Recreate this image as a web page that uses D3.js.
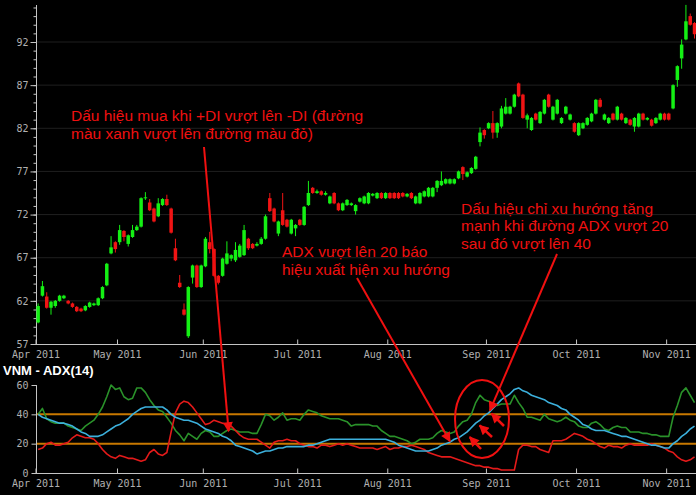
<!DOCTYPE html>
<html><head><meta charset="utf-8">
<script src="https://cdn.jsdelivr.net/npm/d3@7"></script>
<style>html,body{margin:0;padding:0;background:#000;} svg{display:block}</style>
</head><body><svg id="c" width="696" height="495"></svg>
<script>
// ---- DATA ----
const monthLabels = ["Apr 2011","May 2011","Jun 2011","Jul 2011","Aug 2011","Sep 2011","Oct 2011","Nov 2011"];
const monthStarts = [0,19,39,61,82,105,126,147];
const priceTicks = [57,62,67,72,77,82,87,92];
const adxTicks = [0,20,40,60];
const adxLevels = [20,40];

const opens = [
59.5,62.6,62.5,61.2,61.4,62.0,62.3,62.0,61.7,61.3,
61.1,60.9,61.3,61.5,61.5,62.3,63.8,67.5,68.8,68.8,
70.1,68.6,69.4,70.2,70.6,73.9,73.4,72.7,71.8,73.1,
73.8,72.7,68.1,64.1,61.0,57.9,64.7,66.1,63.6,66.0,
68.8,68.0,64.9,64.9,66.3,66.9,66.7,67.1,67.3,69.2,
68.6,68.4,68.6,69.2,73.9,72.7,69.8,72.5,71.4,69.8,
70.4,71.4,70.8,73.1,75.1,74.5,74.7,74.3,73.3,74.5,
73.3,72.5,73.1,73.1,72.4,73.5,73.3,73.3,74.2,73.9,
74.5,73.9,74.5,74.5,74.5,74.5,74.1,74.5,73.3,73.3,
74.1,74.1,74.1,75.1,75.4,75.6,75.6,75.6,76.2,77.5,
76.4,76.8,77.3,80.4,81.8,82.0,82.6,81.5,82.2,83.7,
83.7,84.5,87.2,85.9,83.0,81.8,83.7,82.6,83.7,85.9,
83.0,83.7,82.6,83.7,83.0,82.6,81.2,82.0,82.4,82.8,
83.7,85.3,83.0,82.6,83.7,83.0,83.7,82.6,83.0,82.2,
82.2,83.7,83.0,83.0,82.6,83.0,83.7,83.7,84.3,87.6,
90.1,92.3,95.0,94.2];
const highs = [
61.7,64.3,63.0,62.0,62.1,62.7,62.7,62.1,61.8,61.4,
61.2,61.5,61.9,61.8,62.4,63.7,66.4,69.5,68.9,70.8,
70.2,69.7,70.8,70.8,74.0,74.6,73.8,72.8,73.9,73.9,
74.3,72.8,69.2,65.0,61.7,63.7,66.2,66.2,66.2,69.4,
70.0,68.1,65.0,67.0,68.9,67.4,68.8,68.6,70.8,69.3,
68.7,68.8,69.4,72.0,74.5,72.8,71.3,74.5,71.5,71.5,
70.9,71.5,73.0,75.9,75.2,74.9,74.8,74.7,74.2,74.6,
73.4,73.4,73.8,73.4,73.2,74.0,74.2,74.6,74.5,74.6,
74.6,74.6,74.6,74.6,74.6,74.6,74.5,74.6,74.2,74.6,
74.8,75.2,75.2,76.0,77.0,76.2,76.2,76.2,77.1,77.6,
77.0,77.5,78.8,82.1,81.9,82.7,84.0,82.7,84.6,85.5,
84.6,86.0,87.3,86.0,83.7,83.3,83.8,84.0,85.4,86.0,
84.6,85.4,83.3,84.6,83.7,82.7,82.7,82.7,83.3,83.8,
85.4,85.5,83.7,83.3,83.8,84.6,83.8,83.3,83.1,83.3,
83.8,83.8,83.3,83.1,83.3,83.8,83.8,83.8,87.1,89.3,
92.3,96.3,95.3,94.3];
const lows = [
59.4,62.5,61.1,60.4,61.2,61.9,62.2,61.6,61.2,60.7,
60.7,60.8,61.2,61.4,61.4,62.2,63.7,67.4,67.6,68.5,
68.9,68.3,69.3,70.1,70.5,73.7,72.4,71.1,71.7,73.0,
73.0,69.8,66.6,63.5,60.3,57.7,64.0,63.5,63.5,65.9,
67.5,64.8,63.9,64.8,66.2,66.6,66.5,67.0,67.2,67.9,
68.0,68.3,68.5,69.1,72.3,71.1,69.5,70.7,70.5,69.7,
69.5,70.7,70.7,73.0,74.4,74.4,74.2,74.2,73.2,73.2,
72.4,72.4,73.0,73.0,72.0,73.4,73.2,73.2,74.1,73.8,
73.8,73.8,73.8,73.8,73.8,74.0,74.0,73.8,73.2,73.2,
74.0,74.0,74.0,74.6,75.3,75.5,75.5,75.5,76.1,76.0,
76.3,76.7,77.2,79.9,80.8,81.9,80.8,80.9,82.0,83.6,
83.6,84.4,85.6,83.1,82.0,81.7,82.9,82.5,83.6,84.4,
82.9,83.6,82.5,83.6,82.9,81.5,81.1,81.9,82.3,82.7,
83.6,84.4,82.9,82.5,82.9,82.9,82.9,82.5,82.3,81.6,
82.1,82.9,82.9,82.2,82.5,82.9,82.9,82.9,84.2,86.8,
88.9,92.2,93.9,92.4];
const closes = [
61.4,63.7,61.2,61.9,62.0,62.6,62.6,61.7,61.3,60.8,
60.8,61.4,61.8,61.7,62.3,63.6,66.3,68.2,68.0,70.2,
69.4,69.6,70.2,70.6,73.9,74.0,72.5,71.2,73.3,73.8,
73.1,69.9,66.7,63.6,60.4,63.6,66.1,63.6,66.1,69.2,
68.0,64.9,64.1,66.9,67.5,67.3,67.9,68.4,70.2,68.1,
68.1,68.6,69.2,71.8,72.4,71.2,71.2,70.8,70.6,71.4,
70.8,70.8,72.9,74.5,74.5,74.7,74.3,74.5,74.1,73.3,
72.5,73.3,73.7,73.3,73.1,73.9,74.1,74.5,74.4,74.5,
73.9,74.5,73.9,73.9,73.9,74.1,74.4,73.9,74.1,74.5,
74.7,75.1,75.1,75.9,75.9,76.1,76.1,76.1,77.0,76.7,
76.9,77.4,78.7,81.5,81.2,82.6,81.5,82.6,84.3,84.5,
84.5,85.9,85.7,83.2,83.5,83.2,83.0,83.9,85.3,84.5,
84.5,85.3,83.2,84.5,83.6,81.6,82.6,82.6,83.2,83.7,
85.3,84.5,83.6,83.2,83.0,84.5,83.0,83.2,82.4,83.2,
83.7,83.0,83.2,82.3,83.2,83.7,83.0,83.0,87.0,89.2,
91.7,94.4,94.0,92.9];

const plusDI = [
40,44,37,35,34,34,34,32,31,30,
29,32,34,36,40,45,52,60,57,58,
52,50,51,58,58,55,50,46,43,42,
38,34,29,26,22,27,25,23,27,29,
28,25,25,27,29,30,29,28,28,28,
27,27,33,40,39,36,38,41,36,37,
37,36,40,43,42,41,39,38,37,37,
37,36,35,32,33,33,33,33,32,32,
29,27,25,25,24,23,22,20,21,23,
23,23,24,27,29,28,27,28,32,35,
36,40,48,53,50,49,47,46,47,47,
47,53,48,44,38,38,37,36,40,37,
36,35,36,38,36,35,32,31,31,34,
35,33,30,29,31,32,31,31,28,28,
28,27,27,26,26,25,25,25,38,46,
55,58,53,48];
const minusDI = [
16,17,20,21,19,19,20,21,24,26,
25,24,24,23,20,16,13,11,10,12,
11,10,10,9,8,9,14,16,13,12,
14,28,41,47,49,48,45,41,37,33,
34,36,35,34,33,32,29,26,24,23,
23,23,21,19,17,21,22,22,23,22,
22,20,19,18,18,17,19,19,18,19,
20,19,20,19,18,17,17,17,17,16,
17,18,16,17,17,18,18,19,18,17,
16,14,13,12,11,11,11,10,9,8,
7,6,5,5,4,4,3,3,2,2,
2,2,16,19,19,18,18,16,15,14,
22,22,22,23,25,27,26,25,23,22,
20,18,17,19,18,18,17,19,20,19,
19,19,19,20,19,18,17,15,14,11,
9,8,9,11];
const adx = [
40,38,37,36,35,34,34,33,32,30,
28,27,25,25,25,26,28,30,32,33,
35,37,40,42,44,45,45,45,45,45,
43,40,38,37,36,36,35,34,32,30,
29,28,27,25,24,22,19,18,17,16,
15,13,14,15,15,16,17,17,18,18,
18,18,18,19,19,20,21,22,23,23,
23,23,23,23,23,23,23,23,23,23,
23,23,22,21,19,18,17,16,15,15,
15,15,16,17,19,20,21,23,24,26,
28,31,34,36,39,41,44,47,50,52,
54,57,58,56,55,53,52,51,50,48,
47,46,44,43,40,38,36,33,32,30,
29,29,29,28,27,26,25,25,24,23,
22,21,20,19,19,18,17,17,20,22,
25,27,30,32];

const title = "VNM - ADX(14)";
const notes = [
  {lines:["Dấu hiệu mua khi +DI vượt lên -DI (đường","màu xanh vượt lên đường màu đỏ)"], x:71, y:121},
  {lines:["ADX vượt lên 20 báo","hiệu xuất hiện xu hướng"], x:282, y:257},
  {lines:["Dấu hiệu chỉ xu hướng tăng","mạnh khi đường ADX vượt 20","sau đó vượt lên 40"], x:461, y:213.5}
];

// ---- CHART ----
const W = 696, H = 495;
const svg = d3.select('#c');
svg.append('rect').attr('width', W).attr('height', H).attr('fill', '#000');

const N = closes.length;
const x = d3.scaleBand().domain(d3.range(N)).range([36, 36 + N * 4.29]);
const xLin = d3.scaleLinear().domain([0, N]).range(x.range());
const bw = x.bandwidth();
const cx = i => x(i) + bw / 2;
const cxf = v => xLin(v + 0.5);
const yP = d3.scaleLinear().domain([57, 92]).range([344, 42]);
const yA = d3.scaleLinear().domain([0, 60]).range([473, 385]);

const axisCol = '#c4c4c4', labCol = '#b0b0b0';
const monoFont = '"DejaVu Sans Mono", monospace';

// grid (price)
svg.append('g').selectAll('line').data(priceTicks.slice(1)).join('line')
  .attr('x1', 36).attr('x2', W).attr('y1', d => yP(d)).attr('y2', d => yP(d))
  .attr('stroke', '#1f1f1f').attr('stroke-width', 1);

function styleAxis(g) {
  g.select('.domain').remove();
  g.selectAll('line').attr('stroke', axisCol);
  g.selectAll('text').attr('fill', labCol).style('font-family', monoFont).style('font-size', '10px');
}
svg.append('g').attr('transform', 'translate(36.5,0)')
  .call(d3.axisLeft(yP).tickValues(d3.range(57, 97)).tickSize(3).tickFormat(''))
  .call(styleAxis);
svg.append('g').attr('transform', 'translate(36.5,0)')
  .call(d3.axisLeft(yP).tickValues(priceTicks).tickSize(6).tickPadding(2).tickFormat(d3.format('d')))
  .call(styleAxis);
svg.append('line').attr('x1', 36.5).attr('x2', 36.5).attr('y1', 5).attr('y2', yP(57))
  .attr('stroke', axisCol);
svg.append('line').attr('x1', 36).attr('x2', W).attr('y1', yP(57) + 0.5).attr('y2', yP(57) + 0.5)
  .attr('stroke', axisCol);

function monthAxis(y0) {
  const g = svg.append('g').attr('transform', `translate(${-bw / 2},${y0})`)
    .call(d3.axisBottom(x).tickValues(monthStarts).tickSizeInner(-5).tickSizeOuter(0).tickPadding(6)
      .tickFormat((d, k) => monthLabels[k]));
  styleAxis(g);
}
monthAxis(yP(57) + 0.5);

// candles
const cg = svg.append('g');
const up = '#14f014', down = '#f01414';
d3.range(N).forEach(i => {
  const col = closes[i] >= opens[i] ? up : down;
  cg.append('line').attr('x1', cx(i)).attr('x2', cx(i))
    .attr('y1', yP(highs[i])).attr('y2', yP(lows[i])).attr('stroke', col).attr('stroke-width', 1);
  const top = yP(Math.max(opens[i], closes[i])), bot = yP(Math.min(opens[i], closes[i]));
  cg.append('rect').attr('x', cx(i) - 1.75).attr('width', 3.5)
    .attr('y', top).attr('height', Math.max(1, bot - top)).attr('fill', col);
});

// ADX panel
svg.append('text').attr('x', 3).attr('y', 375).text(title)
  .attr('fill', '#fff').style('font-family', '"Liberation Sans", Arial, sans-serif')
  .style('font-size', '13px').style('font-weight', 'bold');

svg.append('g').attr('transform', 'translate(36.5,0)')
  .call(d3.axisLeft(yA).tickValues(adxTicks).tickSize(5).tickPadding(3).tickFormat(d3.format('d')))
  .call(styleAxis);
svg.append('line').attr('x1', 36.5).attr('x2', 36.5).attr('y1', yA(60)).attr('y2', yA(0)).attr('stroke', axisCol);
svg.append('line').attr('x1', 36).attr('x2', W).attr('y1', yA(0) + 0.5).attr('y2', yA(0) + 0.5).attr('stroke', axisCol);
monthAxis(yA(0) + 0.5);

svg.append('g').selectAll('line').data(adxLevels).join('line')
  .attr('x1', 37).attr('x2', W).attr('y1', d => yA(d)).attr('y2', d => yA(d))
  .attr('stroke', '#c87800').attr('stroke-width', 2);

const line = d3.line().x((d, i) => cx(i)).y(d => yA(d));
[[plusDI, '#2a922a'], [minusDI, '#e41a1a'], [adx, '#3cb0dc']].forEach(([s, c]) => {
  svg.append('path').datum(s).attr('d', line).attr('fill', 'none')
    .attr('stroke', c).attr('stroke-width', 1.6).attr('stroke-linejoin', 'round');
});

// annotations
const red = '#f01010';
const defs = svg.append('defs');
defs.append('marker').attr('id', 'ah').attr('viewBox', '0 0 10 10').attr('refX', 9).attr('refY', 5)
  .attr('markerWidth', 12).attr('markerHeight', 10).attr('markerUnits', 'userSpaceOnUse').attr('orient', 'auto')
  .append('path').attr('d', 'M0,0L10,5L0,10z').attr('fill', red);

const ann = svg.append('g');
notes.forEach(n => {
  const t = ann.append('text').attr('x', n.x).attr('y', n.y).attr('fill', red)
    .style('font-family', '"Liberation Sans", Arial, sans-serif').style('font-size', '15.5px');
  n.lines.forEach((l, k) => t.append('tspan').attr('x', n.x).attr('dy', k ? 17.5 : 0).text(l));
});
const arrows = [
  {x1: 204, y1: 147, x2: cxf(44.4), y2: yA(28.5), w: 2},
  {x1: 357, y1: 278, x2: cxf(96.0), y2: yA(21.5), w: 2},
  {x1: 557, y1: 254, x2: cxf(105.3), y2: yA(42.5), w: 2},
  {x1: 504, y1: 426, x2: cxf(105.7), y2: yA(40.5), w: 2.5},
  {x1: 492, y1: 437, x2: cxf(102.9), y2: yA(32.5), w: 2.5},
  {x1: 481, y1: 449, x2: cxf(100.6), y2: yA(24.5), w: 2.5}
];
arrows.forEach(a => {
  ann.append('line').attr('x1', a.x1).attr('y1', a.y1).attr('x2', a.x2).attr('y2', a.y2)
    .attr('stroke', red).attr('stroke-width', a.w).attr('marker-end', 'url(#ah)');
});
ann.append('ellipse').attr('cx', 482).attr('cy', 419).attr('rx', 27).attr('ry', 39)
  .attr('fill', 'none').attr('stroke', red).attr('stroke-width', 2);
</script></body></html>
